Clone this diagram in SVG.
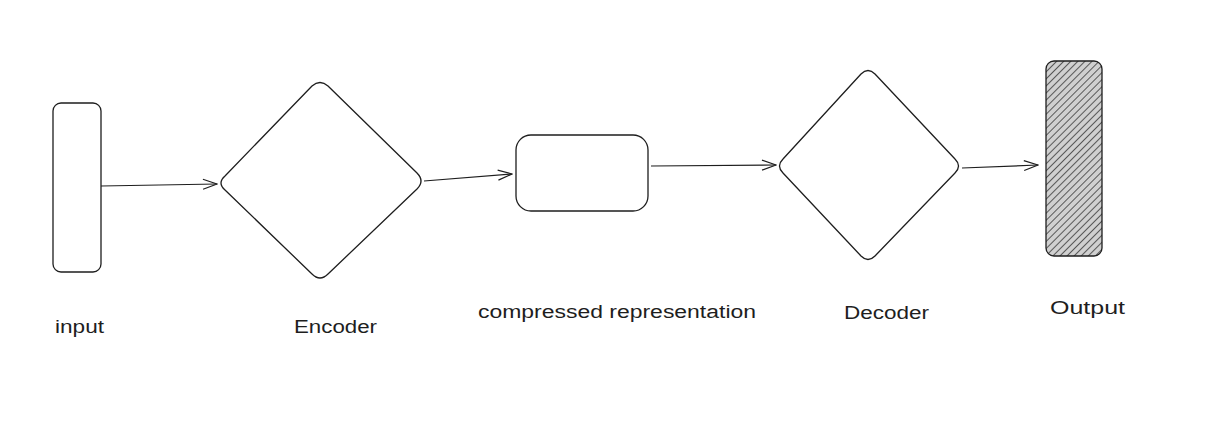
<svg xmlns="http://www.w3.org/2000/svg" width="1219" height="430" viewBox="0 0 1219 430">
<style>
.n{fill:none;stroke:#1e1e1e;stroke-width:1.3;stroke-linejoin:round}
.c{fill:none;stroke:#1e1e1e;stroke-width:1.2}
text{font-family:"Liberation Sans",Arial,sans-serif;font-size:18px;fill:#1e1e1e}
</style>
<defs>
<marker id="a" markerWidth="16" markerHeight="12" refX="15" refY="6" orient="auto" markerUnits="userSpaceOnUse">
<path d="M1,1 L15,6 L1,11" fill="none" stroke="#1e1e1e" stroke-width="1.2"/>
</marker>
<pattern id="h" width="5" height="5" patternUnits="userSpaceOnUse" patternTransform="rotate(-45)">
<rect width="5" height="5" fill="#d0d0d0"/>
<line x1="0" y1="0" x2="5" y2="0" stroke="#3a3a3a" stroke-width="1.6"/>
</pattern>
</defs>
<rect width="1219" height="430" fill="#fff"/>
<g id="input"><rect class="n" x="53" y="103" width="48" height="169" rx="8"/><text x="55" y="333" textLength="49" lengthAdjust="spacingAndGlyphs">input</text></g>
<g id="encoder"><path class="n" d="M312,86 Q320,79 328,86 L417,173 Q425,181 417,189 L328,274 Q320,282 312,274 L225,190 Q217,183 225,176 Z"/><text x="294" y="333" textLength="83" lengthAdjust="spacingAndGlyphs">Encoder</text></g>
<g id="compressed"><rect class="n" x="516" y="135" width="132" height="76" rx="15"/><text x="478" y="318" textLength="278" lengthAdjust="spacingAndGlyphs">compressed representation</text></g>
<g id="decoder"><path class="n" d="M861,74 Q868,67 875,74 L955,159 Q962,166 955,173 L875,256 Q868,263 861,256 L783,173 Q776,166 783,159 Z"/><text x="844" y="319" textLength="85" lengthAdjust="spacingAndGlyphs">Decoder</text></g>
<g id="output"><rect x="1046" y="61" width="56" height="195" rx="8" fill="url(#h)" stroke="#1e1e1e" stroke-width="1.3"/><text x="1050" y="314" textLength="75" lengthAdjust="spacingAndGlyphs">Output</text></g>
<g id="connectors">
<line class="c" x1="101" y1="186" x2="217" y2="184" marker-end="url(#a)"/>
<line class="c" x1="424" y1="181" x2="512" y2="174" marker-end="url(#a)"/>
<line class="c" x1="651" y1="166" x2="776" y2="165" marker-end="url(#a)"/>
<line class="c" x1="962" y1="168" x2="1038" y2="165" marker-end="url(#a)"/>
</g>
</svg>
